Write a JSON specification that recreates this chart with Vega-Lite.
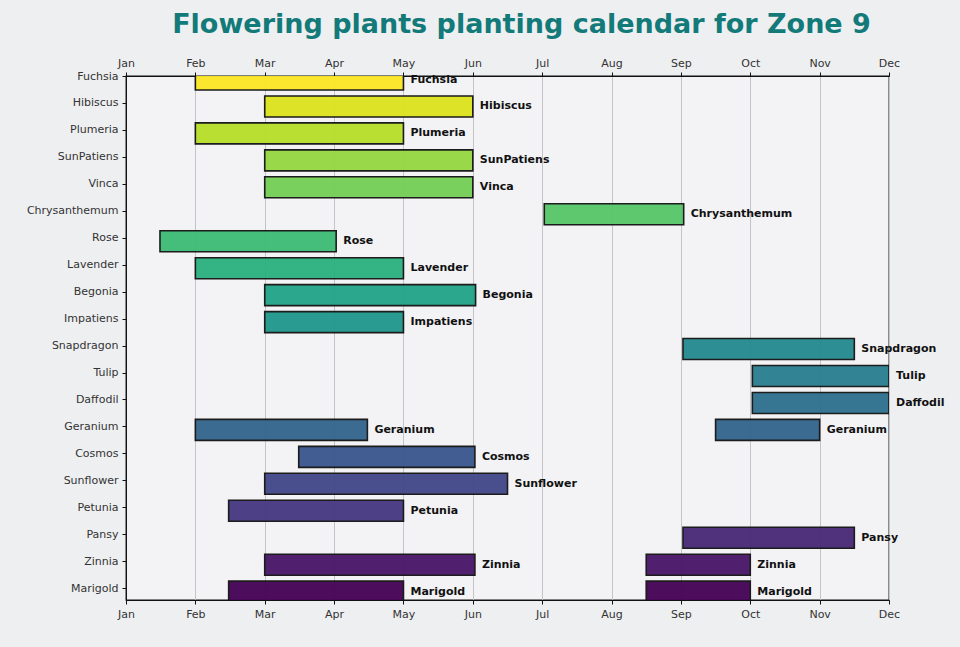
{
  "$schema": "https://vega.github.io/schema/vega-lite/v6.json",
  "width": 763,
  "height": 524,
  "autosize": "none",
  "padding": {"left": 126, "top": 76, "right": 71, "bottom": 47},
  "background": "#eeeff1",
  "title": {
    "text": "Flowering plants planting calendar for Zone 9",
    "font": "DejaVu Sans",
    "fontSize": 27,
    "fontWeight": "bold",
    "color": "#137a7a",
    "anchor": "middle",
    "dx": 14,
    "offset": 18
  },
  "config": {
    "view": {"stroke": "#111111", "strokeWidth": 1.3, "fill": "#f3f3f5"},
    "axis": {
      "labelFont": "DejaVu Sans",
      "labelFontSize": 11,
      "labelColor": "#333333",
      "domainColor": "#111111",
      "tickColor": "#111111",
      "tickSize": 4,
      "labelPadding": 4,
      "labelFlush": false,
      "labelOverlap": false,
      "title": null
    }
  },
  "data": {
    "values": [
      {"plant": "Fuchsia", "idx": 0, "start": 1, "end": 4},
      {"plant": "Hibiscus", "idx": 1, "start": 2, "end": 5},
      {"plant": "Plumeria", "idx": 2, "start": 1, "end": 4},
      {"plant": "SunPatiens", "idx": 3, "start": 2, "end": 5},
      {"plant": "Vinca", "idx": 4, "start": 2, "end": 5},
      {"plant": "Chrysanthemum", "idx": 5, "start": 6.03, "end": 8.04},
      {"plant": "Rose", "idx": 6, "start": 0.49, "end": 3.03},
      {"plant": "Lavender", "idx": 7, "start": 1, "end": 4},
      {"plant": "Begonia", "idx": 8, "start": 2, "end": 5.04},
      {"plant": "Impatiens", "idx": 9, "start": 2, "end": 4},
      {"plant": "Snapdragon", "idx": 10, "start": 8.03, "end": 10.5},
      {"plant": "Tulip", "idx": 11, "start": 9.03, "end": 11},
      {"plant": "Daffodil", "idx": 12, "start": 9.03, "end": 11},
      {"plant": "Geranium", "idx": 13, "start": 1, "end": 3.48},
      {"plant": "Geranium", "idx": 13, "start": 8.5, "end": 10},
      {"plant": "Cosmos", "idx": 14, "start": 2.49, "end": 5.03},
      {"plant": "Sunflower", "idx": 15, "start": 2, "end": 5.5},
      {"plant": "Petunia", "idx": 16, "start": 1.48, "end": 4},
      {"plant": "Pansy", "idx": 17, "start": 8.03, "end": 10.5},
      {"plant": "Zinnia", "idx": 18, "start": 2, "end": 5.03},
      {"plant": "Zinnia", "idx": 18, "start": 7.5, "end": 9},
      {"plant": "Marigold", "idx": 19, "start": 1.48, "end": 4},
      {"plant": "Marigold", "idx": 19, "start": 7.5, "end": 9}
    ]
  },
  "encoding": {
    "y": {
      "field": "idx", "type": "quantitative",
      "scale": {"domain": [0, 19.44], "reverse": true, "nice": false, "zero": false, "padding": 0},
      "axis": {
        "orient": "left",
        "values": [0,1,2,3,4,5,6,7,8,9,10,11,12,13,14,15,16,17,18,19],
        "labelExpr": "['Fuchsia','Hibiscus','Plumeria','SunPatiens','Vinca','Chrysanthemum','Rose','Lavender','Begonia','Impatiens','Snapdragon','Tulip','Daffodil','Geranium','Cosmos','Sunflower','Petunia','Pansy','Zinnia','Marigold'][datum.value]",
        "labelFlush": false, "labelOverlap": false, "labelBound": false, "labelBaseline": "middle",
        "grid": false
      }
    }
  },
  "resolve": {"axis": {"x": "independent"}},
  "layer": [
    {
      "mark": {"type": "bar", "height": 21, "yOffset": 3.5, "stroke": "#111111", "strokeWidth": 1.6, "opacity": 0.95, "clip": true},
      "encoding": {
        "x": {
          "field": "start", "type": "quantitative",
          "scale": {"domain": [0, 11], "nice": false, "zero": false, "padding": 0},
          "axis": {
            "orient": "bottom", "values": [0,1,2,3,4,5,6,7,8,9,10,11],
            "labelExpr": "['Jan','Feb','Mar','Apr','May','Jun','Jul','Aug','Sep','Oct','Nov','Dec'][datum.value]",
            "labelFlush": false, "labelOverlap": false,
            "grid": true, "gridColor": "#c4c4c8", "gridWidth": 1
          }
        },
        "x2": {"field": "end"},
        "color": {
          "field": "idx", "type": "quantitative",
          "scale": {"scheme": "viridis", "reverse": true, "domain": [0, 19]},
          "legend": null
        }
      }
    },
    {
      "mark": {"type": "text", "align": "left", "baseline": "middle", "dx": 7, "yOffset": 3.5, "font": "DejaVu Sans", "fontSize": 11, "fontWeight": "bold", "color": "#111111"},
      "encoding": {
        "x": {
          "field": "end", "type": "quantitative",
          "scale": {"domain": [0, 11], "nice": false, "zero": false, "padding": 0},
          "axis": {
            "orient": "top", "values": [0,1,2,3,4,5,6,7,8,9,10,11],
            "labelExpr": "['Jan','Feb','Mar','Apr','May','Jun','Jul','Aug','Sep','Oct','Nov','Dec'][datum.value]",
            "labelFlush": false, "labelOverlap": false,
            "grid": false
          }
        },
        "text": {"field": "plant"}
      }
    }
  ]
}
